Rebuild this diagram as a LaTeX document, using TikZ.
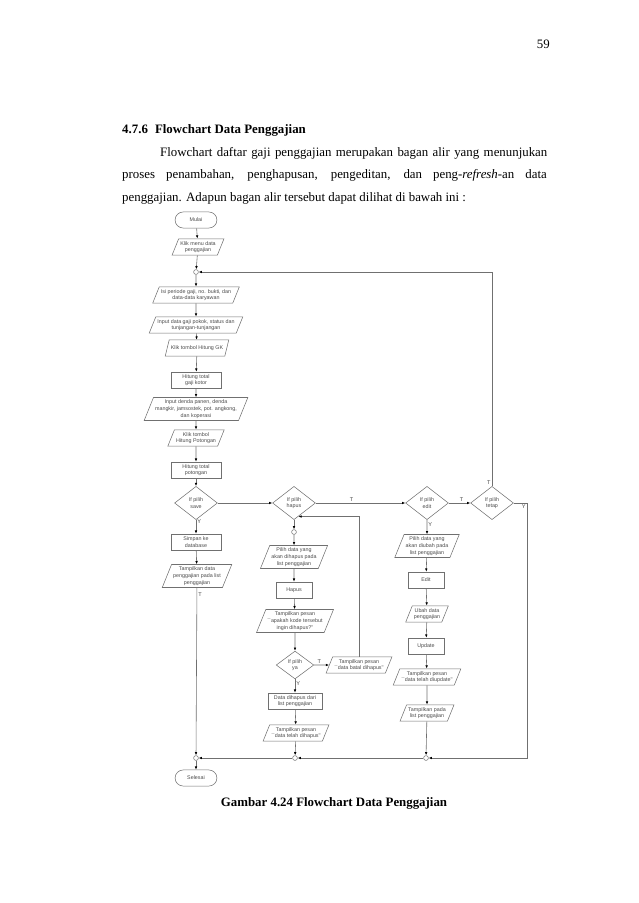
\documentclass[tikz,border=0pt]{standalone}
\usepackage{fontspec}
\setmainfont{Liberation Serif}
\newfontfamily\chartfont{Liberation Sans}
\usetikzlibrary{positioning, arrows.meta, shapes.geometric, calc}
\definecolor{lineGray}{HTML}{707070}
\definecolor{textGray}{HTML}{4A4A4A}

\begin{document}
\begin{tikzpicture}[
  x=0.9326pt, y=-0.9326pt,
  base/.style={draw=lineGray, line width=0.5pt, align=center, text=textGray,
               font=\chartfont\fontsize{5}{6.2}\selectfont},
  terminal/.style={base, rounded corners=7.5pt, minimum width=39pt, minimum height=15pt},
  process/.style={base, rectangle, minimum width=34pt, minimum height=15pt, inner xsep=2pt, inner ysep=2pt},
  io/.style={base, trapezium, trapezium left angle=68, trapezium right angle=112,
             trapezium stretches=true, inner xsep=1.5pt, inner ysep=2.2pt, minimum height=15pt},
  decision/.style={base, diamond, inner sep=0pt, minimum width=40pt, minimum height=31pt},
  joint/.style={draw=lineGray, line width=0.5pt, circle, fill=white, inner sep=0pt, minimum size=4.5pt},
  flow/.style={draw=lineGray, line width=0.55pt, -{Latex[length=3pt, width=2.4pt, color=black]}},
  lbl/.style={font=\chartfont\fontsize{5.2}{5.2}\selectfont, text=textGray, inner sep=1pt},
  body/.style={anchor=base west, inner sep=0pt, font=\fontsize{12}{14}\selectfont},
]
  \useasboundingbox (0,0) rectangle (638,903);

  % page text
  \node[body, anchor=base east] (pagenum) at (550,49) {59};
  \node[body, font=\bfseries\fontsize{12}{14}\selectfont] (heading) at (122,134)
    {4.7.6\hspace{0.55em}Flowchart Data Penggajian};
  \node[body] (line1) at (160,157)
    {\makebox[361pt][s]{Flowchart daftar gaji penggajian merupakan bagan alir yang menunjukan}};
  \node[body] (line2) at (122,179)
    {\makebox[396pt][s]{proses penambahan, penghapusan, pengeditan, dan peng-\textit{refresh}-an data}};
  \node[body] (line3) at (122,201)
    {penggajian. Adapun bagan alir tersebut dapat dilihat di bawah ini :};
  \node[body, anchor=base, font=\bfseries\fontsize{12}{14}\selectfont] (caption) at (334,806)
    {Gambar 4.24 Flowchart Data Penggajian};

  % left column
  \node[terminal] (mulai) at (196,220) {Mulai};
  \node[io] (klikmenu) at (198,247) {Klik menu data\\penggajian};
  \node[joint] (jtop) at (196,272) {};
  \node[io] (isi) at (196,295) {Isi periode gaji, no. bukti, dan\\data-data karyawan};
  \node[io] (gajipokok) at (196,325) {Input data gaji pokok, status dan\\tunjangan-tunjangan};
  \node[io] (klikgk) at (197,348) {Klik tombol Hitung GK};
  \node[process, minimum width=47pt] (kotor) at (196,380) {Hitung total\\gaji kotor};
  \node[io] (denda) at (196,409) {Input denda panen, denda\\mangkir, jamsostek, pot. angkong,\\dan koperasi};
  \node[io] (klikpot) at (196,438) {Klik tombol\\Hitung Potongan};
  \node[process, minimum width=47pt] (potongan) at (196,470) {Hitung total\\potongan};
  \node[decision] (save) at (196,503) {If pilih\\save};
  \node[process, minimum width=47pt] (simpan) at (196,542) {Simpan ke\\database};
  \node[io] (tampildata) at (197,576) {Tampilkan data\\penggajian pada list\\penggajian};
  \node[joint] (jleft) at (196,758) {};
  \node[terminal] (selesai) at (196,778) {Selesai};

  % middle column
  \node[decision] (hapus) at (294,503) {If pilih\\hapus};
  \node[joint] (jhapus) at (294,532) {};
  \node[io] (pilihhapus) at (294,557) {Pilih data yang\\akan dihapus pada\\list penggajian};
  \node[process] (hapusbox) at (294,590) {Hapus};
  \node[io] (tanya) at (295,621) {Tampilkan pesan\\``apakah kode tersebut\\ingin dihapus?''};
  \node[decision, minimum width=35pt, minimum height=26pt] (ya) at (295,665) {If pilih\\ya};
  \node[io] (batal) at (359,665) {Tampilkan pesan\\``data batal dihapus''};
  \node[process, minimum width=50pt] (dihapus) at (295,701) {Data dihapus dari\\list penggajian};
  \node[io] (telahhapus) at (296,733) {Tampilkan pesan\\``data telah dihapus''};
  \node[joint] (jmid) at (295,758) {};

  % right column
  \node[decision] (edit) at (427,503) {If pilih\\edit};
  \node[decision] (tetap) at (492,503) {If pilih\\tetap};
  \node[io] (pilihubah) at (427,546) {Pilih data yang\\akan diubah pada\\list penggajian};
  \node[process] (editbox) at (426,580) {Edit};
  \node[io] (ubah) at (427,614) {Ubah data\\penggajian};
  \node[process] (update) at (426,646) {Update};
  \node[io] (telahupdate) at (427,677) {Tampilkan pesan\\``data telah diupdate''};
  \node[io] (tampilpada) at (427,713) {Tampilkan pada\\list penggajian};
  \node[joint] (jright) at (426,758) {};
  \coordinate (rail) at (527,758);

  % connectors
  \draw[flow] (mulai) -- (klikmenu);
  \draw[flow] (klikmenu) -- (jtop);
  \draw[flow] (jtop) -- (isi);
  \draw[flow] (isi) -- (gajipokok);
  \draw[flow] (gajipokok) -- (klikgk);
  \draw[flow] (klikgk) -- (kotor);
  \draw[flow] (kotor) -- (denda);
  \draw[flow] (denda) -- (klikpot);
  \draw[flow] (klikpot) -- (potongan);
  \draw[flow] (potongan) -- (save);
  \draw[flow] (save) -- node[lbl, pos=0.15, right]{Y} (simpan);
  \draw[flow] (simpan) -- (tampildata);
  \draw[flow] (tampildata) -- node[lbl, pos=0.02, below right]{T} (jleft);
  \draw[flow] (jleft) -- (selesai);

  \draw[flow] (save) -- (hapus);
  \draw[flow] (hapus) -- (jhapus);
  \draw[flow] (jhapus) -- (pilihhapus);
  \draw[flow] (pilihhapus) -- (hapusbox);
  \draw[flow] (hapusbox) -- (tanya);
  \draw[flow] (tanya) -- (ya);
  \draw[flow] (ya) -- node[lbl, pos=0.35, above]{T} (batal);
  \draw[flow] (batal.north) |- (hapus.-72);
  \draw[flow] (ya) -- node[lbl, pos=0.3, right]{Y} (dihapus);
  \draw[flow] (dihapus) -- (telahhapus);
  \draw[flow] (telahhapus) -- (jmid);

  \draw[flow] (hapus) -- node[lbl, pos=0.4, above]{T} (edit);
  \draw[flow] (edit) -- node[lbl, pos=0.6, above]{T} (tetap);
  \draw[flow] (edit) -- node[lbl, pos=0.3, right]{Y} (pilihubah);
  \draw[flow] (pilihubah) -- (editbox);
  \draw[flow] (editbox) -- (ubah);
  \draw[flow] (ubah) -- (update);
  \draw[flow] (update) -- (telahupdate);
  \draw[flow] (telahupdate) -- (tampilpada);
  \draw[flow] (tampilpada) -- (jright);

  \draw[flow] (tetap.north) -- node[lbl, pos=0, above left]{T} ++(0,0) |- (jtop);
  \draw[flow] (tetap.east) -| node[lbl, pos=0.5, below left]{Y} (rail) -- (jright);
  \draw[flow] (jright) -- (jmid);
  \draw[flow] (jmid) -- (jleft);
\end{tikzpicture}
\end{document}
